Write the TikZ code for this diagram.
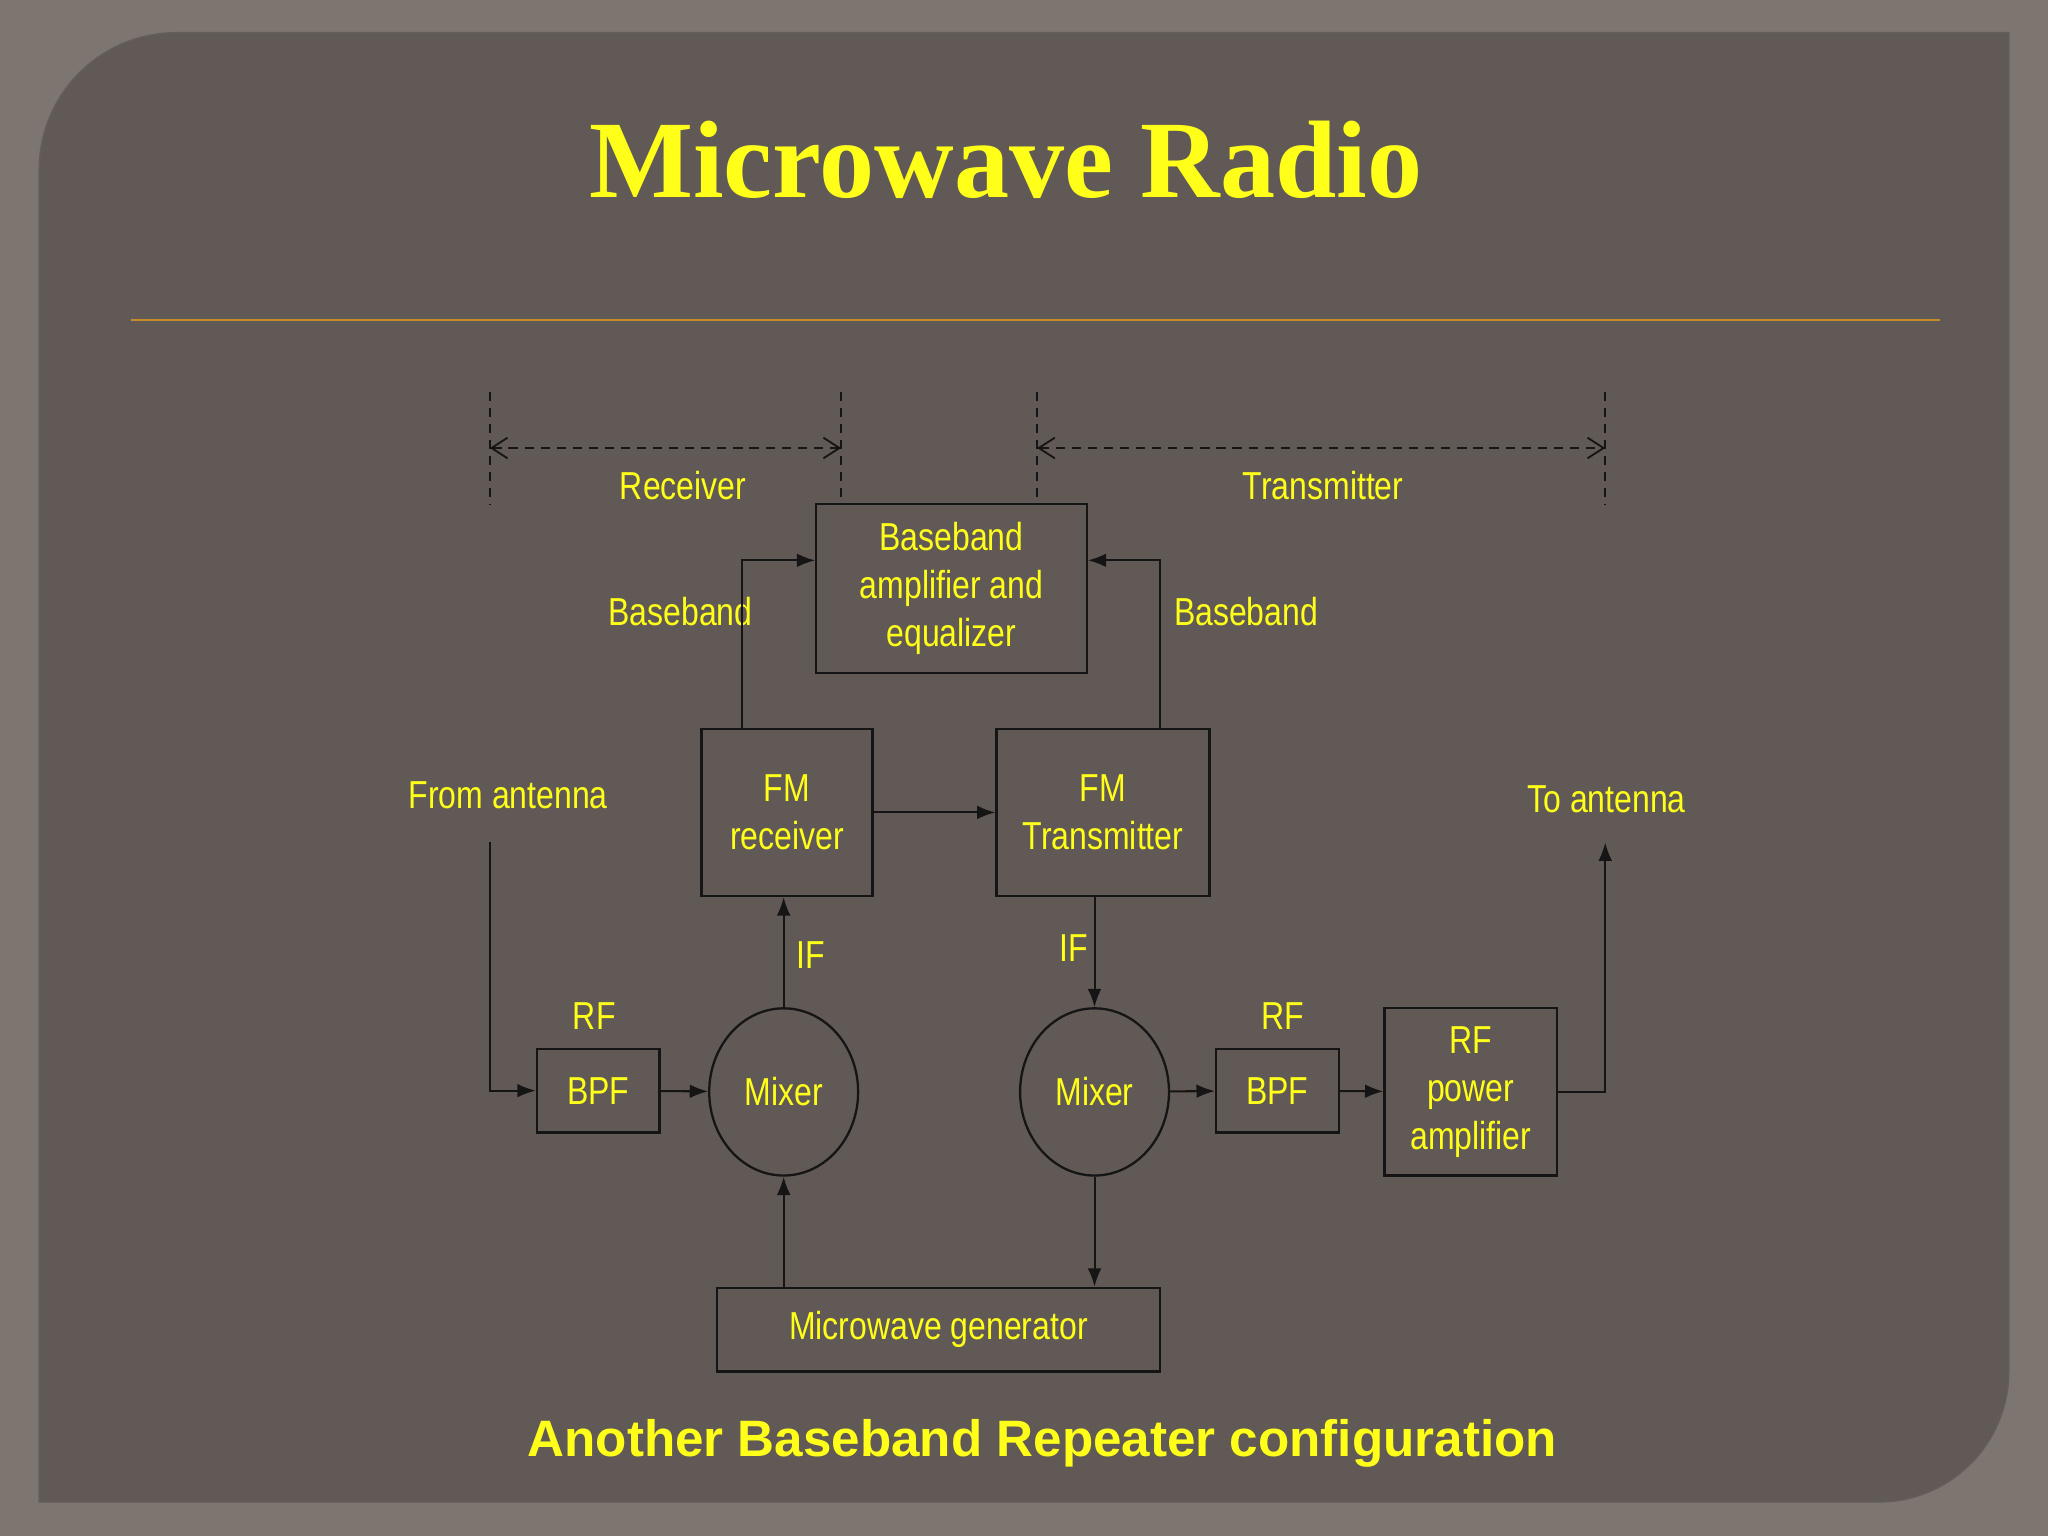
\documentclass[tikz,border=0pt]{standalone}
\usepackage{fontspec}
\setmainfont{Liberation Sans}
\newfontfamily\narrowf{Liberation Sans}[FakeStretch=0.82]
\newfontfamily\titlef{Liberation Serif}
\usetikzlibrary{arrows.meta,shapes.geometric}
\definecolor{outer}{HTML}{7D7570}
\definecolor{panel}{HTML}{615955}
\definecolor{ink}{HTML}{151515}
\definecolor{yel}{HTML}{FFFF1A}
\begin{document}
\begin{tikzpicture}[x=0.02cm,y=-0.02cm,
  ln/.style={draw=ink,line width=0.9pt},
  arr/.style={ln,-{Latex[length=8pt,width=6pt]}},
  box/.style={draw=ink,line width=1pt,rectangle,inner sep=0pt,text=yel,align=center,font=\narrowf\fontsize{17}{21}\selectfont},
  lab/.style={text=yel,font=\narrowf\fontsize{17}{21}\selectfont,inner sep=0pt,align=center},
  dsh/.style={draw=ink,line width=0.8pt,dash pattern=on 4pt off 3pt}]
\fill[outer] (0,0) rectangle (1568,1176);
\useasboundingbox (0,0) rectangle (1568,1176);
\fill[panel,draw=outer!80!black,line width=0.6pt] (30,130) -- (30,1150) -- (1438,1150) arc[start angle=-90,end angle=0,x radius=100,y radius=-100] -- (1538,25) -- (135,25) arc[start angle=90,end angle=180,x radius=105,y radius=-105] -- cycle;
\node[text=yel,font=\titlef\bfseries\fontsize{48}{58}\selectfont,inner sep=0pt] (title) at (770,122) {Microwave Radio};
\draw[draw={rgb,255:red,200;green,140;blue,40},line width=1pt] (100,245) coordinate (l1) -- (1485,245) coordinate (l2);
% boxes
\node[box,minimum width=207*0.02cm,minimum height=129*0.02cm] (bb) at (728.5,450.5) {Baseband\\amplifier and\\equalizer};
\node[box,minimum width=131*0.02cm,minimum height=128*0.02cm] (fmr) at (602.5,622) {FM\\receiver};
\node[box,minimum width=163*0.02cm,minimum height=128*0.02cm] (fmt) at (844.5,622) {FM\\Transmitter};
\node[box,ellipse,minimum width=114*0.02cm,minimum height=128*0.02cm] (m1) at (600,836) {Mixer};
\node[box,ellipse,minimum width=114*0.02cm,minimum height=128*0.02cm] (m2) at (838,836) {Mixer};
\node[box,minimum width=94*0.02cm,minimum height=64*0.02cm] (bpf1) at (458,835) {BPF};
\node[box,minimum width=94*0.02cm,minimum height=64*0.02cm] (bpf2) at (978,835) {BPF};
\node[box,minimum width=132*0.02cm,minimum height=128*0.02cm] (rfa) at (1126,836) {RF\\power\\amplifier};
\node[box,minimum width=339*0.02cm,minimum height=64*0.02cm] (gen) at (718.5,1018) {Microwave generator};
% labels
\node[lab] (lrec) at (523,372) {Receiver};
\node[lab] (ltx) at (1013,372) {Transmitter};
\node[lab] (lbb1) at (521,468) {Baseband};
\node[lab] (lbb2) at (954,468) {Baseband};
\node[lab] (lfa) at (389,609) {From antenna};
\node[lab] (lta) at (1230,612) {To antenna};
\node[lab] (lif1) at (621,731) {IF};
\node[lab] (lif2) at (822,726) {IF};
\node[lab] (lrf1) at (455,778) {RF};
\node[lab] (lrf2) at (982,778) {RF};
\node[text=yel,font=\bfseries\fontsize{22.3}{27}\selectfont,inner sep=0pt] (cap) at (798,1105) {Another Baseband Repeater configuration};
% dashed
\coordinate (d1t) at (375,300); \coordinate (d1b) at (375,387);
\coordinate (d2t) at (644,300); \coordinate (d2b) at (644,386);
\coordinate (d3t) at (794,300); \coordinate (d3b) at (794,386);
\coordinate (d4t) at (1229,300); \coordinate (d4b) at (1229,387);
\draw[dsh] (d1t) -- (d1b); \draw[dsh] (d2t) -- (d2b);
\draw[dsh] (d3t) -- (d3b); \draw[dsh] (d4t) -- (d4b);
\draw[dsh,{Straight Barb[length=7pt,width=9pt]}-{Straight Barb[length=7pt,width=9pt]}] (375,343) -- (644,343);
\draw[dsh,{Straight Barb[length=7pt,width=9pt]}-{Straight Barb[length=7pt,width=9pt]}] (794,343) -- (1229,343);
% connectors
\coordinate (fa) at (375,645);
\coordinate (ta) at (1229,645);
\draw[arr] (fa) |- (bpf1.west);
\draw[arr] (bpf1) -- (m1);
\draw[arr] (m1.north) -- (fmr.south -| m1.north);
\draw[arr] (fmr.north -| 568,0) |- (bb.west |- 0,429);
\draw[arr] (fmr) -- (fmt);
\draw[arr] (fmt.north -| 888,0) |- (bb.east |- 0,429);
\draw[arr] (fmt.south -| m2.north) -- (m2.north);
\draw[arr] (m2) -- (bpf2);
\draw[arr] (bpf2) -- (rfa);
\draw[arr] (rfa.east) -| (ta);
\draw[arr] (gen.north -| m1.south) -- (m1.south);
\draw[arr] (m2.south) -- (gen.north -| m2.south);
\end{tikzpicture}
\end{document}
